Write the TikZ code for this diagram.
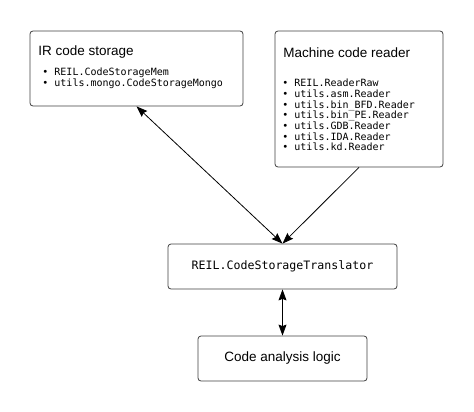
\documentclass[tikz,border=0pt]{standalone}
\usepackage{fontspec}
\setmainfont{Liberation Sans}
\setmonofont{DejaVu Sans Mono}
\usetikzlibrary{arrows.meta}

\tikzset{
  box/.style={draw=black!75, line width=0.8pt, rounded corners=3pt, fill=white},
  lst/.style={align=left, inner sep=0pt, font=\fontsize{10}{10.7}\selectfont\ttfamily},
  ttl/.style={inner sep=0pt, font=\fontsize{13.5}{16}\selectfont}
}

\begin{document}
\begin{tikzpicture}[x=1pt, y=-1pt, >={Stealth[length=11pt,width=8pt,inset=1.5pt]}, line width=0.8pt]

  \useasboundingbox (0, 0) rectangle (474, 412);

  \node[box, minimum width=213pt, minimum height=75pt] (a) at (136.5, 68.5) {};
  \node[box, minimum width=168pt, minimum height=136pt] (b) at (359, 99) {};
  \node[box, minimum width=229pt, minimum height=45pt,
        font=\fontsize{11.6}{14}\selectfont\ttfamily] (c) at (282.5, 266.5) {REIL.CodeStorageTranslator};
  \node[box, minimum width=169pt, minimum height=45pt,
        font=\fontsize{13.5}{16}\selectfont] (d) at (282.5, 358.5) {Code analysis logic};

  \node[ttl, anchor=west] (e) at (38, 52) {IR code storage};
  \node[lst, anchor=west] (f) at (42, 78.5) {• REIL.CodeStorageMem\\• utils.mongo.CodeStorageMongo};
  \node[ttl, anchor=west] (g) at (283, 53) {Machine code reader};
  \node[lst, anchor=west] (h) at (282, 115) {• REIL.ReaderRaw\\• utils.asm.Reader\\• utils.bin\_BFD.Reader\\%
    • utils.bin\_PE.Reader\\• utils.GDB.Reader\\• utils.IDA.Reader\\• utils.kd.Reader};

  \draw [<->] (a.south) to (c.north);
  \draw [->] (b.south) to (c.north);
  \draw [<->] (c.south) to (d.north);

\end{tikzpicture}
\end{document}
